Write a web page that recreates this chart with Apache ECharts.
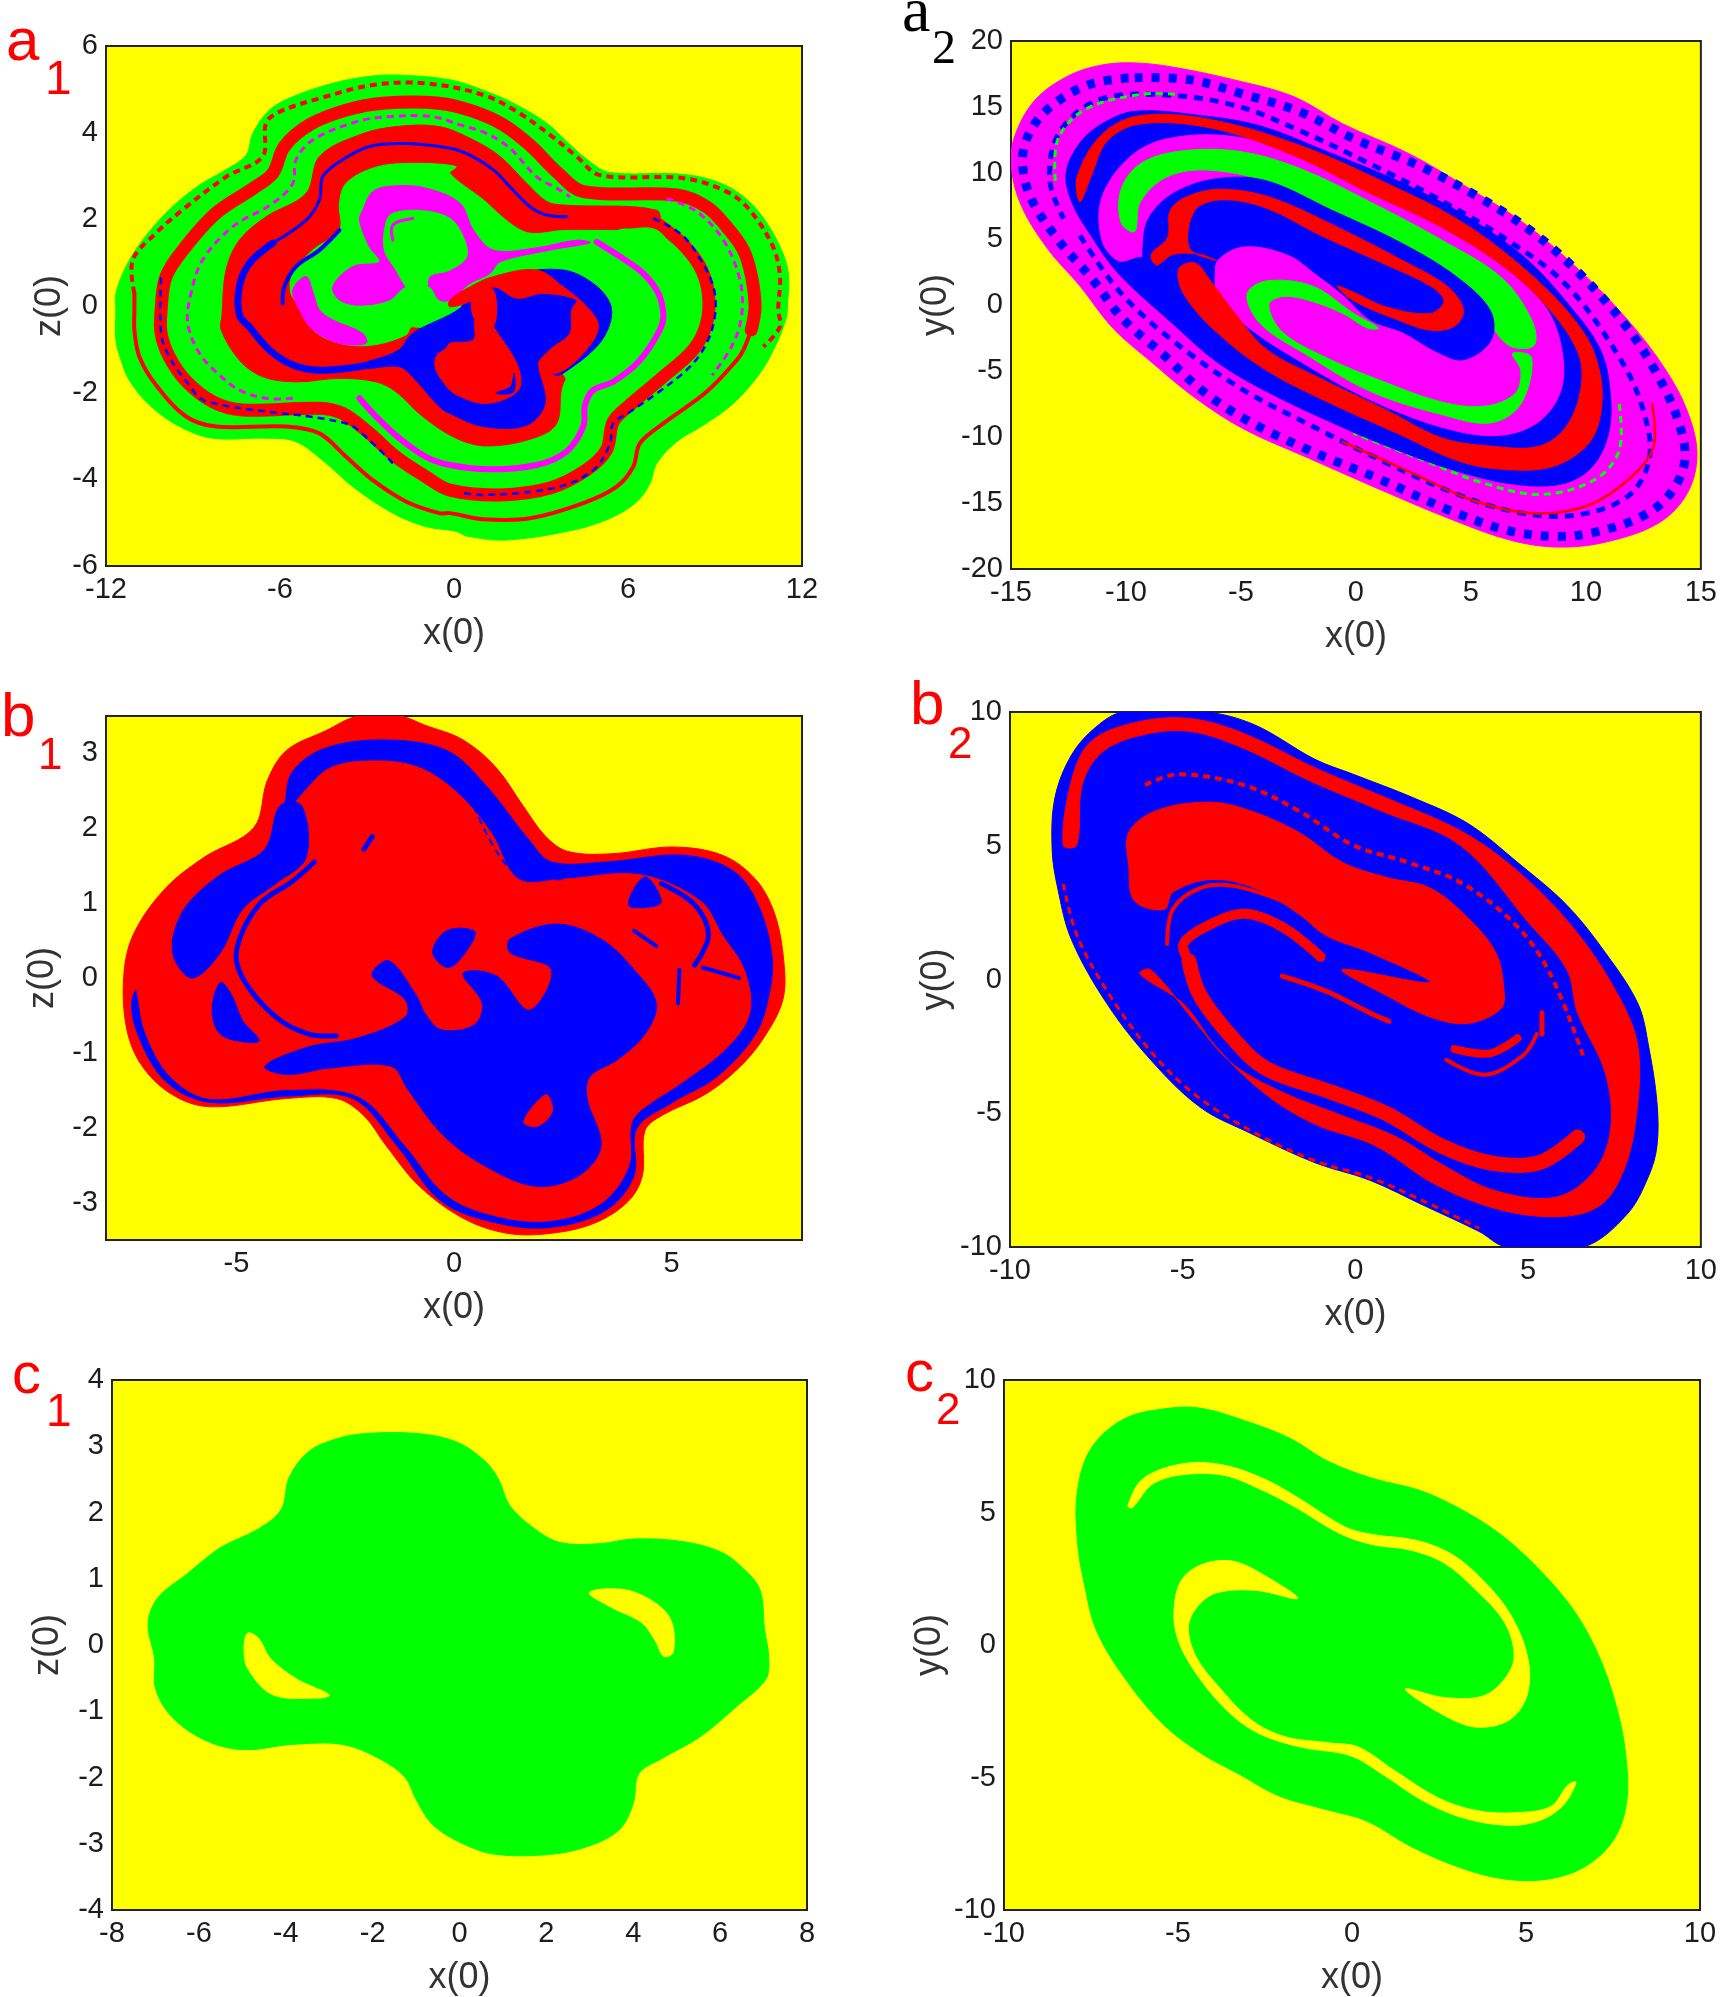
<!DOCTYPE html>
<html>
<head>
<meta charset="utf-8">
<title>Basins of attraction</title>
<script src="https://cdn.jsdelivr.net/npm/echarts@6/dist/echarts.min.js"></script>
<style>
html, body { margin: 0; padding: 0; background: #fff; }
#chart { width: 1720px; height: 1997px; }
</style>
</head>
<body>
<div id="chart"></div>
<script>
// tick labels
var a1XTicks = [-12, -6, 0, 6, 12];
var a1YTicks = [-6, -4, -2, 0, 2, 4, 6];
var a2XTicks = [-15, -10, -5, 0, 5, 10, 15];
var a2YTicks = [-20, -15, -10, -5, 0, 5, 10, 15, 20];
var b1XTicks = [-5, 0, 5];
var b1YTicks = [-3, -2, -1, 0, 1, 2, 3];
var b2XTicks = [-10, -5, 0, 5, 10];
var b2YTicks = [-10, -5, 0, 5, 10];
var c1XTicks = [-8, -6, -4, -2, 0, 2, 4, 6, 8];
var c1YTicks = [-4, -3, -2, -1, 0, 1, 2, 3, 4];
var c2XTicks = [-10, -5, 0, 5, 10];
var c2YTicks = [-10, -5, 0, 5, 10];

// ==============================================================
// a1 : x(0), z(0) basin contours
// ==============================================================
var a1Outline = [[-2,5.33],[-.14,5.22],[1.01,4.98],[2.05,4.68],[3.2,4.22],[3.89,3.79],[4.69,3.33],[5.38,3.08],[7.68,3.05],[8.83,2.92],[9.75,2.64],[10.55,2.14],[11.24,1.37],[11.53,.75],[11.49,-.09],[11.47,-.25],[11.13,-.86],[10.55,-1.55],[9.63,-2.25],[8.6,-2.75],[7.68,-3.13],[6.99,-3.63],[6.76,-4.09],[6.3,-4.52],[5.38,-4.9],[4.12,-5.17],[1.82,-5.4],[.44,-5.31],[.07,-5.2],[-.97,-5.09],[-2.11,-4.78],[-3.49,-4.17],[-4.41,-3.63],[-5.45,-3.13],[-6.48,-3.05],[-8.32,-3.05],[-9.47,-2.78],[-10.51,-2.28],[-11.2,-1.71],[-11.48,-1.25],[-11.66,-.78],[-11.66,-.09],[-11.66,.29],[-11.31,.91],[-10.74,1.52],[-9.82,2.22],[-8.78,2.79],[-7.98,3.1],[-7.17,3.48],[-6.94,3.98],[-6.37,4.52],[-5.56,4.83],[-4.18,5.14],[-3.03,5.29]];
var a1ThinRed = [[10.25,-.55],[9.98,-1.01],[9.75,-1.25],[8.71,-1.98],[7.22,-2.71],[6.41,-3.17],[6.18,-3.71],[5.61,-4.17],[4.46,-4.55],[2.62,-4.9],[1.01,-4.92],[-.14,-4.78],[-.51,-4.78],[-1.66,-4.51],[-2.8,-4.02],[-3.72,-3.48],[-4.64,-2.94],[-5.79,-2.78],[-8.21,-2.78],[-9.24,-2.55],[-10.28,-1.82],[-10.85,-1.17],[-11.02,-.55],[-11.02,-.09],[-11.02,.29]];
var a1SpeckRed = [[-11.02,.29],[-11.08,1.06],[-10.28,1.68],[-9.36,2.22],[-7.86,2.98],[-6.6,3.45],[-6.48,4.22],[-6.02,4.48],[-4.64,4.79],[-2.8,5.1],[-.97,5.14],[1.01,4.87],[2.16,4.49],[3.31,3.95],[4.23,3.45],[5.03,3.02],[7.91,2.95],[9.4,2.64],[10.2,2.21],[11,1.37],[11.24,.68],[11.18,-.09],[11.24,-.48],[10.67,-.94]];
var a1RedArm = [[10.25,-.55],[10.38,-.03],[10.26,.68],[9.98,1.29],[9.4,1.83],[8.71,2.29],[7.68,2.56],[4.46,2.64],[3.6,3.06],[2.62,3.71],[1.7,4.18],[.67,4.49],[-.51,4.68],[-2.46,4.68],[-3.72,4.52],[-4.99,4.18],[-5.85,3.68],[-6.25,3.06],[-6.94,2.71],[-8.21,2.14],[-9.3,1.33],[-9.93,.68],[-10.1,-.09],[-10.1,-.63],[-9.82,-1.17],[-9.24,-1.73],[-8.32,-2.21],[-7.29,-2.4],[-4.64,-2.36],[-3.84,-2.48],[-2.98,-2.9],[-2,-3.48],[-.97,-3.94],[-.14,-4.25],[1.59,-4.36],[3.31,-4.2],[4.57,-3.78],[5.26,-3.32],[5.49,-2.67],[6.07,-2.28],[7.22,-1.63],[8.25,-1.01],[8.71,-.4],[8.77,.29],[8.48,.91],[7.85,1.45],[6.99,1.91]];
var a1RedCore = [[6.99,2.21],[3.77,2.33],[3.2,2.41],[2.51,2.83],[1.59,3.45],[.67,3.83],[-.51,4.14],[-2,4.14],[-3.26,3.95],[-4.64,3.45],[-5.1,2.6],[-6.48,2.06],[-7.4,1.52],[-7.86,.83],[-8,-.21],[-8.03,-.55],[-7.4,-1.25],[-6.6,-1.63],[-5.45,-1.75],[-3.95,-1.67],[-2.69,-1.75],[-2,-1.98],[-1.08,-2.55],[.07,-3.05],[1.13,-3.23],[2.74,-3.05],[3.54,-2.71],[3.77,-1.78],[4.69,-1.01],[5.38,-.55],[5.38,.29],[5.61,1.06],[5.61,1.75],[6.99,1.79]];
var a1GreenCore = [[.07,3.22],[-1.66,3.29],[-2.8,3.18],[-3.72,2.83],[-3.95,2.37],[-3.95,1.75],[-4.87,1.29],[-5.56,.75],[-5.62,.29],[-5.22,-.09],[-4.87,-.55],[-3.95,-.86],[-2.8,-.9],[-1.66,-.67],[-1.43,-.48],[2.16,-.86],[3.83,-1.63],[3.83,-2.32],[5.61,-2.17],[7.22,-1.4],[7.79,-.78],[8.02,-.21],[8.02,.29],[7.68,1.06],[6.99,1.75],[5.61,1.74],[3.77,1.74],[2.62,1.68],[1.93,1.91],[1.01,2.45],[-.14,3.06]];
var a1MagentaBlob = [[-3.15,2.21],[-2.8,2.64],[-2.11,2.77],[-.97,2.72],[.21,2.37],[.67,1.75],[1.36,1.29],[2.74,1.33],[4.23,1.52],[4.69,1.46],[3.31,1.29],[1.59,1.02],[1.24,.75],[.55,.52],[-.14,.14],[-.51,.14],[-.85,.45],[-1.66,.45],[-2.23,.14],[-3.26,.02],[-3.95,.14],[-4.18,.45],[-3.49,.91],[-2.57,1.02],[-2.92,1.37],[-3.26,1.98]];
var a1GreenBlob = [[-2.35,1.91],[-2.11,2.14],[-1.08,2.2],[-.14,2.02],[.32,1.6],[.44,1.14],[-.14,.83],[-.85,.68],[-.97,.29],[-1.54,.37],[-2,.83],[-2.4,1.29]];
var a1MagentaArc = [[-2.11,1.52],[-2.11,1.87],[-1.43,2.02]];
var a1MagentaLeft = [[-5.56,.37],[-5.1,.68],[-4.85,.29],[-4.64,-.09],[-4.18,-.32],[-3.15,-.63],[-3.03,-.86],[-3.95,-.86],[-4.87,-.55],[-5.33,-.09]];
var a1BlueThinTop = [[3.89,2.06],[3.2,2.1],[2.62,2.29],[1.93,2.75],[1.36,3.14],[.55,3.48],[-.14,3.64],[-1.66,3.75],[-2.92,3.68],[-3.95,3.33],[-4.53,2.98],[-4.64,2.45],[-5.1,1.98],[-6.25,1.45]];
var a1BlueWide = [[-6.25,1.45],[-7.06,.98],[-7.4,.45],[-7.4,-.21],[-7.06,-.48],[-6.37,-1.01],[-5.56,-1.36],[-4.64,-1.48],[-3.26,-1.4]];
var a1BlueInner = [[-3.95,1.75],[-4.64,1.29],[-5.45,.91],[-5.85,.45],[-5.91,.06]];
var a1BlueRight = [[6.87,2.02],[7.79,1.68],[8.37,1.21],[8.94,.45],[9,-.21],[8.71,-.86],[8.14,-1.4],[6.99,-2.02],[6.07,-2.44],[5.49,-2.71],[5.38,-3.17],[4.92,-3.71],[4,-4.09],[2.74,-4.28],[1.01,-4.36],[.21,-4.31]];
var a1BlueLow = [[-2.11,-3.63],[-2.8,-3.17],[-3.72,-2.71],[-8.55,-2.2],[-9.24,-1.73],[-9.82,-1.17],[-10.1,-.63],[-10.1,.68]];
var a1BlueShape = [[-1.43,-.63],[.21,-.05],[.55,.37],[2.16,.75],[3.77,.83],[4.8,.52],[5.38,.06],[5.38,-.4],[4.92,-.94],[3.77,-1.55],[3.48,-1.59],[2.91,-1.36],[3.14,-2.24],[2.51,-2.75],[1.01,-2.78],[-.14,-2.48],[-.51,-2.32],[-1.43,-1.63],[-1.89,-1.4],[-2.92,-1.44],[-4.3,-1.51],[-2.8,-1.25],[-1.89,-1.01]];
var a1RedRing = [[-.14,.14],[.55,.44],[1.36,.68],[2.85,.83],[3.77,.44],[4.57,-.01],[4.98,-.48],[4.46,-1.09],[3.54,-1.55],[2.91,-1.36],[3.31,-1.01],[4,-.63],[4.06,-.09],[4.23,.14],[3.08,.29],[2.16,.18],[1.36,.44],[.67,.14],[-.14,-.02]];
var a1RedStem = [[.67,.29],[1.36,.37],[1.36,-.48],[.72,-.32]];
var a1RedCentre = [[-.14,-.86],[.67,-.78],[.72,-.32],[1.01,-.09],[1.36,-.48],[2.16,-1.32],[2.28,-1.86],[1.82,-2.13],[1.01,-2.25],[.21,-2.09],[-.14,-1.94],[-.62,-1.48],[-.62,-1.17],[-.28,-.98]];
var a1BlueSliver = [[2.07,-1.55],[1.95,-1.86],[1.44,-2.01],[2.05,-1.98]];
var a1MagentaThick = [[4.92,1.48],[5.72,1.14],[6.53,.75],[7.05,.29],[7.22,-.21],[7.1,-.55],[6.41,-1.25],[5.49,-1.75],[4.8,-1.94],[4.52,-2.28],[4.46,-2.78],[3.88,-3.36],[2.85,-3.67],[1.24,-3.77],[-.14,-3.67],[-.97,-3.48],[-1.89,-3.05],[-2.69,-2.55],[-3.26,-2.13]];
var a1MagentaDash = [[-5.56,-2.13],[-6.48,-2.13],[-7.4,-1.94],[-8.09,-1.59],[-8.78,-1.09],[-9.18,-.4],[-9.07,.29],[-8.67,1.06],[-7.63,1.83],[-6.25,2.37],[-5.56,2.83],[-5.45,3.37],[-4.87,3.83],[-3.38,4.25],[-2.23,4.37],[-.74,4.37],[.21,4.18],[1.13,3.98],[1.93,3.64],[2.85,2.98],[3.54,2.72],[4,2.52]];
var a1MagentaRight = [[7.33,2.48],[8.37,2.18],[9.29,1.52],[9.86,.6],[9.92,-.21],[9.6,-.9],[8.9,-1.6]];

// ==============================================================
// a2 : x(0), y(0) basin contours
// ==============================================================
var a2Outline = [[-9.62,18.34],[-7.95,18.02],[-5.33,17.07],[-2.71,15.79],[-.57,13.72],[2.29,11.48],[4.67,9.09],[7.29,6.22],[9.67,2.71],[11.81,-1.12],[13.48,-4.94],[14.43,-8.13],[14.83,-11.32],[14.43,-14.19],[13.24,-16.43],[11.1,-17.86],[8.95,-18.34],[6.81,-17.86],[4.19,-16.27],[1.33,-14.19],[-2,-11.64],[-4.86,-9.41],[-7,-7.02],[-8.9,-4.31],[-10.57,-1.75],[-12,1.44],[-13.43,4.31],[-14.62,7.81],[-15,11],[-14.74,13.24],[-13.9,15.63],[-12.48,17.38],[-11.05,18.18]];
var a2BlueSpeck = [[-9.62,17.22],[-7.24,17.07],[-4.86,15.95],[-2.48,14.67],[-.1,12.6],[2.76,10.53],[5.38,8.13],[7.76,5.42],[9.9,2.07],[11.81,-1.75],[13,-4.94],[13.95,-8.45],[14.31,-11.64],[13.71,-14.19],[12.52,-15.95],[10.38,-17.22],[8.71,-17.54],[6.57,-17.07],[3.95,-15.47],[1.1,-13.24],[-2.24,-10.85],[-4.86,-8.61],[-6.76,-6.38],[-8.43,-3.67],[-10.1,-1.12],[-11.52,2.07],[-12.95,4.94],[-14.14,8.13],[-14.5,11],[-14.14,13.24],[-13.19,15.15],[-11.52,16.75],[-9.62,17.22]];
var a2BlueSpeckInner = [[-12,5.26],[-10.33,1.12],[-8.19,-2.39],[-5.1,-6.22],[-2,-9.09],[1.33,-11.96],[4.19,-14.19],[6.81,-15.63],[9.43,-15.95],[11.81,-14.51],[12.76,-11.64],[12.52,-8.13],[11.57,-4.31],[9.19,1.44],[6.57,4.94],[3.48,8.13],[.62,10.69],[-2.48,13.24],[-5.33,15.15],[-8.67,15.95],[-11.29,15.47],[-12.95,12.92],[-13.31,9.41],[-12.71,6.54]];
var a2BlueBody = [[-9.62,14.67],[-6.76,14.35],[-4.14,13.56],[-1.29,11.64],[1.81,9.41],[4.67,6.86],[7.29,3.67],[9.19,.16],[10.62,-3.35],[11.05,-6.54],[10.98,-9.73],[10.26,-12.28],[8.95,-13.56],[6.81,-13.56],[4.43,-12.6],[2.05,-11.16],[-.81,-9.09],[-3.9,-6.54],[-6.05,-4.31],[-7.95,-1.44],[-10.33,2.39],[-11.52,5.26],[-12.36,7.81],[-12.6,10.05],[-12,12.28],[-11.05,13.72]];
var a2RedThin = [[12.88,-7.5],[12.95,-10.69],[12.05,-12.92],[10.14,-15.15],[7.76,-15.79],[5.14,-14.83],[2.29,-12.6],[-.57,-10.37]];
var a2GreenLow2 = [[11.45,-7.5],[11.45,-11],[10.38,-13.24],[8,-14.35],[5.38,-13.4],[2.76,-11.64],[-.1,-9.73]];
var a2GreenTop2 = [[-13.07,9.41],[-12.95,12.6],[-11.76,14.83],[-9.38,15.95],[-7.71,15.95]];
var a2Magenta = [[-11.05,4.94],[-11.05,8.13],[-9.86,11.16],[-8.19,12.6],[-5.33,12.76],[-2.48,11.32],[.62,8.77],[3.71,5.9],[6.33,3.03],[8.24,-.16],[8.95,-3.35],[8.9,-6.54],[7.88,-8.93],[6.1,-9.89],[3.71,-9.25],[.62,-7.18],[-2.24,-4.47],[-4.86,-1.44],[-6.05,1.12],[-6.29,3.67],[-9.38,3.67],[-10.33,3.35]];
var a2GreenTop = [[-10.21,6.22],[-10.21,8.77],[-9.38,10.69],[-7.71,11.64],[-5.1,11.64],[-2.48,10.37],[.62,7.81],[3.71,4.94],[6.33,2.07],[7.64,-1.12],[7.76,-3.03],[6.81,-3.19],[6.1,-2.07],[5.38,.48],[2.76,3.67],[-.57,6.54],[-3.43,9.09],[-6.29,10.21],[-8.19,9.73],[-9.38,7.81],[-9.62,5.58]];
var a2GreenLow = [[7.64,-3.99],[7.17,-7.5],[5.86,-8.93],[3.71,-8.29],[.62,-6.54],[-2.24,-3.67],[-4.14,-1.44],[-4.74,.8],[-3.9,1.82],[-1.9,1.44],[-.1,-.64],[.98,-1.75],[.5,-1.75],[-.57,-.64],[-2,.32],[-3.19,.64],[-3.79,0],[-3.19,-2.07],[-1.29,-3.99],[1.1,-5.74],[3.71,-7.34],[5.62,-7.66],[6.93,-6.7],[7.17,-4.94],[6.81,-3.67]];
var a2BlueS = [[-9.26,4.31],[-9.02,6.54],[-7.95,8.45],[-6.05,9.57],[-3.9,9.41],[-1.05,7.18],[2.05,4.63],[4.43,2.07],[5.86,-.48],[5.86,-2.71],[4.67,-4.15],[3.48,-3.51],[2.05,-2.07],[.62,-1.12],[-.57,.8],[-1.76,2.39],[-2.95,3.83],[-4.86,4.47],[-6.05,3.35],[-6.29,1.44],[-7.24,3.35],[-8.43,3.19],[-8.55,1.44],[-9.14,2.39]];
var a2RedArm = [[-12.12,9.73],[-11.05,12.92],[-9.38,14.35],[-6.29,14.04],[-2.48,12.12],[1.1,9.41],[4.67,6.22],[7.76,2.07],[9.9,-2.07],[10.62,-5.26],[10.62,-8.45],[10.02,-10.69],[8.48,-12.28],[6.33,-12.44],[4.43,-11.8],[1.81,-9.73],[-1.05,-7.5],[-3.9,-4.94],[-6.05,-2.07],[-7.48,.8],[-7.71,2.71],[-7,3.19],[-6.29,1.75],[-5.33,-.48],[-3.9,-3.35],[-1.52,-5.58],[1.33,-7.97],[3.71,-10.05],[5.86,-10.69],[8,-10.69],[9.19,-9.09],[9.79,-6.22],[9.67,-3.67],[8.48,-.48],[6.57,2.71],[3.71,5.9],[.62,8.45],[-2.71,11.32],[-6.29,13.4],[-9.38,13.72],[-10.81,12.44],[-11.52,9.73],[-12,7.81]];
var a2RedInner = [[-8.9,3.83],[-8.19,5.1],[-8.07,7.18],[-7.24,8.29],[-5.81,8.77],[-3.67,8.13],[-.81,5.9],[2.05,3.35],[3.95,1.44],[4.67,-.32],[4.31,-1.59],[3.24,-1.91],[1.81,-1.12],[-.1,.32],[-.81,1.44],[-.1,.96],[1.33,-.16],[3.24,-.64],[3.83,.32],[3.24,1.44],[1.33,3.03],[-1.52,5.26],[-3.9,7.34],[-5.81,7.97],[-7,7.18],[-7.24,4.31],[-6.05,3.35],[-6.76,3.83],[-7.95,3.83],[-8.67,3.03]];

// ==============================================================
// b1 : x(0), z(0) basin contours
// ==============================================================
var b1Outline = [[-2.2,3.5],[-1.25,3.5],[-.68,3.38],[.21,3.18],[.97,2.81],[1.6,2.29],[2.11,1.89],[2.62,1.69],[3.63,1.66],[5.03,1.75],[6.17,1.64],[6.93,1.32],[7.37,.86],[7.58,.23],[7.56,-.29],[7.12,-.8],[6.55,-1.2],[5.79,-1.55],[4.77,-1.84],[4.39,-2.04],[4.33,-2.64],[4.01,-2.98],[3.25,-3.27],[2.24,-3.41],[1.22,-3.41],[.21,-3.21],[-.8,-2.78],[-1.56,-2.24],[-2.07,-1.84],[-2.7,-1.61],[-3.85,-1.61],[-5.62,-1.72],[-6.5,-1.55],[-7.2,-1.15],[-7.54,-.63],[-7.58,.11],[-7.33,.63],[-6.63,1.2],[-5.75,1.61],[-4.6,2.01],[-4.29,2.64],[-3.85,3.04],[-2.96,3.3]];
var b1BlueRing = [[-3.72,2.75],[-2.96,3.07],[-1.57,3.18],[-.17,3.04],[.72,2.58],[1.73,1.84],[2.24,1.55],[3.5,1.55],[5.28,1.64],[6.42,1.43],[6.99,.98],[7.31,.29],[7.24,-.23],[6.93,-.75],[6.04,-1.32],[5.03,-1.66],[4.2,-2.01],[4.14,-2.64],[3.5,-3.1],[2.24,-3.33],[.97,-3.27],[-.3,-2.98],[-1.31,-2.24],[-2.33,-1.61],[-3.85,-1.58],[-5.62,-1.66],[-6.63,-1.38],[-7.27,-.75],[-7.4,-.29],[-7.1,0],[-5.4,1.2],[-4.2,1.7],[-3.9,2.3]];
var b1RedBody = [[-3.47,2.47],[-2.83,2.81],[-1.82,2.9],[-.8,2.81],[.08,2.47],[.84,1.95],[1.48,1.32],[2.49,1.32],[4.26,1.38],[5.66,1.03],[6.17,.57],[6.67,.11],[6.8,-.46],[6.29,-.92],[5.28,-1.38],[4.33,-1.75],[4.07,-1.95],[4.01,-2.52],[3.38,-3.01],[2.24,-3.24],[.97,-3.18],[-.17,-2.9],[-1.12,-2.24],[-2.2,-1.58],[-3.85,-1.49],[-5.62,-1.61],[-6.51,-1.32],[-7.08,-.75],[-7.27,-.23],[-7.4,.23],[-7.14,.69],[-6.25,1.26],[-5.37,1.55],[-4.35,1.84],[-3.85,2.18]];
var b1BlueLobe = [[-6.13,.98],[-5.37,1.38],[-4.35,1.72],[-4,2.3],[-3.5,2.3],[-3.4,1.61],[-4.1,1.26],[-4.86,.92],[-5.37,.34],[-6,0],[-6.41,.23],[-6.45,.57]];
var b1BlueCurve = [[-3.21,1.55],[-3.72,1.29],[-4.48,.98],[-4.99,.4],[-4.86,0],[-4.1,-.52],[-3.34,-.75],[-2.71,-.77]];
var b1BlueSmall = [[-5.37,-.06],[-5.11,-.23],[-4.86,-.57],[-4.48,-.83],[-4.74,-.86],[-5.37,-.75],[-5.56,-.43]];
var b1BlueCentre = [[-4.35,-1.18],[-3.34,-.92],[-2.2,-.8],[-1.12,-.52],[-1.12,-.29],[-1.88,.03],[-1.5,.23],[-.87,-.23],[-.68,-.46],[-.3,-.69],[.46,-.63],[.65,-.34],[.21,.06],[.97,.03],[1.73,-.43],[2.24,.11],[1.29,.34],[1.29,.52],[2.36,.72],[3.38,.52],[4.14,.11],[4.65,-.34],[4.39,-.75],[3.76,-1.09],[3.12,-1.32],[3.06,-1.61],[3.38,-2.24],[2.87,-2.64],[1.86,-2.78],[.59,-2.47],[-.3,-2.07],[-1.06,-1.49],[-1.44,-1.18],[-2.83,-1.2],[-3.85,-1.29]];
var b1RedIsland = [[1.6,-1.92],[2.11,-1.56],[2.26,-1.78],[1.92,-1.98]];
var b1BlueSpot = [[-.49,.34],[-.17,.63],[.46,.63],[.4,.46],[-.11,.14]];
var b1BlueTick = [[-1.88,1.89],[-2.07,1.72]];
var b1BlueWedge = [[4.39,1.35],[4.77,1.03],[4.52,.95],[4.01,.98]];
var b1BlueArc = [[4.77,1.26],[5.53,.98],[5.85,.57],[5.53,.17]];
var b1BlueBar = [[5.18,.11],[5.15,-.34]];
var b1BlueDash = [[5.72,.14],[6.55,0]];
var b1BlueNick = [[4.14,.63],[4.65,.43]];
var b1BlueEdge = [[.46,2.29],[1.34,1.43],[2.49,1.32]];

// ==============================================================
// b2 : x(0), y(0) basin contours
// ==============================================================
var b2Outline = [[-6.72,10],[-4.34,10],[-2.92,9.52],[-1.17,8.23],[-.06,7.67],[1.68,6.79],[3.26,5.83],[4.69,4.38],[6.12,2.78],[7.23,1.01],[8.18,-.91],[8.49,-2.52],[8.73,-4.61],[8.73,-6.21],[8.49,-7.34],[7.86,-8.78],[6.59,-10],[4.37,-10],[3.58,-9.42],[2,-8.46],[.41,-7.5],[-1.17,-6.85],[-3.07,-5.73],[-4.5,-4.77],[-5.93,-3],[-7.19,-.91],[-8.22,1.49],[-8.62,3.42],[-8.78,4.86],[-8.7,6.79],[-8.22,8.39],[-7.51,9.44]];
var b2RedArm = [[-8.46,5.02],[-8.22,7.43],[-7.67,8.88],[-6.4,9.6],[-4.82,9.76],[-3.23,9.2],[-1.17,7.91],[.89,6.79],[3.11,5.51],[4.69,4.06],[6.28,1.97],[7.54,-.43],[8.18,-2.52],[8.1,-5.41],[7.7,-7.34],[7.07,-8.46],[5.96,-8.86],[4.22,-8.62],[2.31,-7.66],[.57,-6.21],[-1.17,-5.41],[-2.6,-4.29],[-4.03,-2.52],[-4.98,-.91],[-6.24,.21],[-5.93,.37],[-4.66,-1.56],[-3.55,-3.16],[-2.12,-4.21],[-.38,-5.09],[1.2,-5.89],[2.63,-7.01],[4.06,-7.9],[5.8,-8.14],[6.91,-7.17],[7.39,-5.57],[7.23,-3.48],[6.43,-1.24],[6.12,.37],[5.01,2.13],[3.03,5.02],[.73,6.31],[-1.33,7.43],[-3.23,8.64],[-4.82,9.28],[-6.24,9.12],[-7.35,8.48],[-7.91,7.27],[-8.07,5.02]];
var b2RedEdge = [[-8.46,3.58],[-8.06,1.65],[-7.19,-.43],[-5.93,-2.68],[-4.66,-4.29],[-2.92,-5.73],[-1.17,-6.78],[.41,-7.4],[2,-8.3],[3.58,-9.3]];
var b2RedCentre = [[-6.56,5.51],[-5.77,6.31],[-4.34,6.63],[-3.23,6.39],[-1.65,5.51],[-.38,4.38],[.89,3.82],[2.16,3.42],[3.26,2.3],[4.06,1.01],[4.29,-.27],[4.22,-1.08],[3.26,-1.64],[2.16,-1.4],[.89,-.59],[-.38,.37],[2.16,-.11],[.41,1.01],[-.86,1.65],[-1.65,2.46],[-2.92,3.42],[-4.18,3.74],[-5.29,3.26],[-5.53,2.62],[-6.4,2.94],[-6.56,4.22]];
var b2RibLow = [[-4.82,.69],[-4.5,-.59],[-3.55,-2.2],[-2.6,-3.32],[-.7,-4.21],[.89,-5.01],[2.47,-6.21],[3.9,-6.85],[5.32,-6.85],[6.43,-5.89]];
var b2RibTop = [[-4.82,.69],[-4.98,1.33],[-4.34,1.97],[-3.23,2.46],[-2.12,1.97],[-1.01,.85]];
var b2RibThin = [[-5.45,1.33],[-5.29,2.62],[-4.5,3.42],[-3.55,3.5],[-2.12,2.94]];
var b2ArcUpper = [[2.87,-2.6],[3.9,-2.76],[4.69,-2.2]];
var b2ArcLower = [[2.63,-3],[3.74,-3.56],[4.85,-2.84],[5.25,-2.04]];
var b2ArcBar = [[5.4,-1.24],[5.4,-2.04]];
var b2Streak = [[-2.12,.13],[-.86,-.43],[.41,-1.24],[.97,-1.56]];
var b2Dots = [[-6.09,7.27],[-5.14,7.67],[-3.23,7.27],[-1.65,6.31],[-.06,5.02],[1.52,4.38],[3.11,3.58],[4.69,1.97],[5.64,.21],[6.59,-2.84]];

// ==============================================================
// c1, c2 : single basin with yellow holes
// ==============================================================
var c1Outline = [[-2.2,3.19],[-.94,3.19],[-.05,3.06],[.58,2.78],[.9,2.5],[1.15,2.11],[1.66,1.79],[2.3,1.55],[3.24,1.53],[4,1.6],[5.15,1.56],[6.03,1.4],[6.54,1.15],[6.92,.83],[7.02,.25],[7.12,-.2],[7.05,-.52],[6.41,-.91],[5.53,-1.39],[4.64,-1.72],[4.13,-1.94],[4,-2.39],[3.69,-2.78],[3,-3.03],[2.1,-3.16],[.84,-3.16],[.08,-3],[-.62,-2.71],[-1,-2.33],[-1.25,-2],[-1.83,-1.72],[-2.7,-1.5],[-3.85,-1.5],[-4.99,-1.58],[-5.88,-1.43],[-6.64,-1.07],[-7,-.65],[-7.02,-.2],[-7.17,.31],[-6.96,.7],[-6.26,1.08],[-5.5,1.47],[-4.61,1.76],[-4.1,2.05],[-3.92,2.53],[-3.47,2.92],[-2.84,3.11]];
var c1HoleRight = [[2.99,.79],[3.75,.84],[4.45,.66],[4.87,.37],[4.92,-.11],[4.7,-.17],[4.51,.06],[4.19,.34],[3.49,.57]];
var c1HoleLeft = [[-4.87,.18],[-4.61,.09],[-4.36,-.2],[-3.73,-.52],[-3,-.75],[-3.22,-.8],[-4.3,-.75],[-4.87,-.36],[-4.96,-.04]];
var c2Outline = [[-5.28,8.93],[-4.33,8.93],[-3.06,8.45],[-1.8,7.81],[-.69,6.93],[.58,6.29],[2,5.81],[3.27,5.02],[4.38,4.06],[5.49,2.7],[6.44,1.18],[7.15,-.58],[7.63,-2.49],[7.86,-4.09],[7.9,-5.85],[7.55,-7.28],[6.75,-8.32],[5.65,-8.83],[4.38,-8.83],[3.11,-8.4],[1.69,-7.6],[.42,-6.64],[-.85,-6.17],[-2.11,-5.69],[-3.22,-4.89],[-4.33,-4.09],[-5.44,-2.97],[-6.55,-1.21],[-7.34,.54],[-7.69,2.3],[-7.89,3.9],[-7.89,5.81],[-7.5,7.41],[-6.55,8.53]];
var c2HoleUpper = [[-6.44,5.26],[-5.99,6.29],[-4.81,6.85],[-3.62,6.77],[-2.43,6.21],[-1.48,5.5],[-.21,4.46],[.58,4.17],[1.84,3.95],[2.87,3.42],[3.75,2.46],[4.54,1.18],[5.04,-.42],[5.04,-1.85],[4.54,-2.81],[3.59,-3.1],[2.64,-2.65],[1.53,-1.66],[2.64,-1.98],[3.75,-1.93],[4.38,-1.29],[4.66,-.42],[4.38,.86],[3.51,2.14],[2.64,3.1],[1.69,3.58],[.58,3.79],[-.37,4.22],[-1.64,5.21],[-2.59,5.85],[-3.7,6.41],[-4.96,6.41],[-5.76,6.05],[-6.31,5.18]];
var c2HoleLower = [[-1.56,1.76],[-2.51,2.62],[-3.38,3.15],[-4.17,3.1],[-4.8,2.62],[-5.07,1.82],[-5.07,.54],[-4.65,-.73],[-3.7,-2.33],[-2.75,-3.29],[-1.48,-3.85],[-.06,-4.17],[.89,-4.89],[2,-5.85],[3.11,-6.49],[4.38,-6.8],[5.33,-6.65],[6.04,-6.09],[6.44,-5.18],[6.2,-5.29],[5.72,-6.09],[4.7,-6.33],[3.59,-6.25],[2.48,-5.77],[1.21,-4.73],[.18,-3.85],[-.69,-3.69],[-1.95,-3.45],[-2.91,-2.81],[-3.86,-1.53],[-4.49,-.42],[-4.7,.7],[-4.41,1.5],[-3.86,1.98],[-2.75,2.06]];

var RED = '#ff0000', GREEN = '#00ff00', BLUE = '#0000ff', PINK = '#ff00ff', YELLOW = '#ffff00';
var dotted = [7, 5];

// layer = [points, colour] fills a region, [points, colour, width, dash] strokes a line
var a1Layers = [
    [a1Outline, GREEN], [a1ThinRed, RED, 4], [a1SpeckRed, RED, 4, dotted],
    [a1RedArm, RED, 13], [a1RedCore, RED], [a1GreenCore, GREEN],
    [a1MagentaBlob, PINK], [a1GreenBlob, GREEN], [a1MagentaArc, PINK, 3], [a1MagentaLeft, PINK],
    [a1BlueThinTop, BLUE, 3], [a1BlueWide, BLUE, 7], [a1BlueInner, BLUE, 4],
    [a1BlueRight, BLUE, 2.5, dotted], [a1BlueLow, BLUE, 2.5, dotted],
    [a1BlueShape, BLUE], [a1RedRing, RED], [a1RedStem, RED], [a1RedCentre, RED], [a1BlueSliver, BLUE],
    [a1MagentaThick, PINK, 6], [a1MagentaDash, PINK, 3, dotted], [a1MagentaRight, PINK, 3, dotted]
];
var a2Layers = [
    [a2Outline, PINK], [a2BlueSpeck, BLUE, 9, [8, 9]], [a2BlueSpeckInner, BLUE, 5, [9, 7]], [a2RedThin, RED, 2.5], [a2GreenLow2, GREEN, 3, dotted], [a2GreenTop2, GREEN, 3, dotted],
    [a2BlueBody, BLUE], [a2Magenta, PINK], [a2GreenTop, GREEN], [a2GreenLow, GREEN], [a2BlueS, BLUE],
    [a2RedArm, RED], [a2RedInner, RED]
];
var b1Layers = [
    [b1Outline, RED], [b1BlueRing, BLUE], [b1RedBody, RED], [b1BlueLobe, BLUE], [b1BlueCurve, BLUE, 5], [b1BlueSmall, BLUE],
    [b1BlueCentre, BLUE], [b1RedIsland, RED], [b1BlueSpot, BLUE], [b1BlueTick, BLUE, 5], [b1BlueWedge, BLUE],
    [b1BlueArc, BLUE, 5], [b1BlueBar, BLUE, 4], [b1BlueDash, BLUE, 4], [b1BlueNick, BLUE, 4], [b1BlueEdge, BLUE, 2, dotted]
];
var b2Layers = [
    [b2Outline, BLUE], [b2RedEdge, RED, 3, dotted], [b2RedArm, RED], [b2RedCentre, RED], [b2RibLow, RED, 15], [b2RibTop, RED, 10], [b2RibThin, RED, 4],
    [b2ArcUpper, RED, 8], [b2ArcLower, RED, 4], [b2ArcBar, RED, 5], [b2Streak, RED, 5], [b2Dots, RED, 4, dotted]
];
var c1Layers = [[c1Outline, GREEN], [c1HoleRight, YELLOW], [c1HoleLeft, YELLOW]];
var c2Layers = [[c2Outline, GREEN], [c2HoleUpper, YELLOW], [c2HoleLower, YELLOW]];

var panels = [
    { rect: [106, 46, 696, 520], x: 12, y: 6, xTicks: a1XTicks, yTicks: a1YTicks, yName: 'z(0)', gap: 37, layers: a1Layers },
    { rect: [1011, 41, 695, 528], x: 15, y: 20, xTicks: a2XTicks, yTicks: a2YTicks, yName: 'y(0)', gap: 57, layers: a2Layers },
    { rect: [106, 716, 696, 524], x: 8, y: 3.5, xTicks: b1XTicks, yTicks: b1YTicks, yName: 'z(0)', gap: 45, layers: b1Layers },
    { rect: [1010, 712, 696, 535], x: 10, y: 10, xTicks: b2XTicks, yTicks: b2YTicks, yName: 'y(0)', gap: 56, layers: b2Layers },
    { rect: [112, 1380, 695, 531], x: 8, y: 4, xTicks: c1XTicks, yTicks: c1YTicks, yName: 'z(0)', gap: 46, layers: c1Layers },
    { rect: [1004, 1380, 696, 536], x: 10, y: 10, xTicks: c2XTicks, yTicks: c2YTicks, yName: 'y(0)', gap: 56, layers: c2Layers }
];

// panel tags, letter then subscript: [text, left, baseline, size, family, colour]
var SANS = '"Liberation Sans"', SERIF = '"Liberation Serif"';
var tags = [
    ['a', 6, 63, 60, SANS, RED], ['1', 45, 96, 48, SANS, RED],
    ['a', 902, 35, 64, SERIF, '#000'], ['2', 932, 66, 48, SERIF, '#000'],
    ['b', 1, 739, 62, SANS, RED], ['1', 38, 771, 44, SANS, RED],
    ['b', 910, 727, 62, SANS, RED], ['2', 948, 760, 44, SANS, RED],
    ['c', 12, 1396, 58, SANS, RED], ['1', 46, 1428, 46, SANS, RED],
    ['c', 905, 1394, 58, SANS, RED], ['2', 936, 1426, 44, SANS, RED]
];

function layerSeries(layer, index) {
    var points = layer[0], color = layer[1], width = layer[2], dash = layer[3];
    return {
        type: 'custom',
        xAxisIndex: index,
        yAxisIndex: index,
        coordinateSystem: 'cartesian2d',
        silent: true,
        animation: false,
        clip: true,
        encode: { x: 0, y: 1 },
        data: points,
        renderItem: function (params, api) {
            if (params.dataIndex !== 0) { return null; }
            var pts = points.map(function (p) { return api.coord(p); });
            if (width) {
                return {
                    type: 'polyline',
                    shape: { points: pts, smooth: 0.35 },
                    style: { fill: null, stroke: color, lineWidth: width, lineDash: dash || null, lineJoin: 'round', lineCap: dash ? 'butt' : 'round' }
                };
            }
            return { type: 'polygon', shape: { points: pts, smooth: 0.35 }, style: { fill: color, stroke: color, lineWidth: 1 } };
        }
    };
}

var tickFont = { fontFamily: SANS, fontSize: 29, color: '#1c1c1c' };
var nameFont = { fontFamily: SANS, fontSize: 36, color: '#333' };
var grids = [], xAxes = [], yAxes = [], series = [];

panels.forEach(function (p, i) {
    grids.push({
        left: p.rect[0], top: p.rect[1], width: p.rect[2], height: p.rect[3],
        show: true, backgroundColor: YELLOW, borderColor: '#222', borderWidth: 2
    });
    xAxes.push({
        type: 'value', gridIndex: i, min: -p.x, max: p.x,
        name: 'x(0)', nameLocation: 'middle', nameGap: 50, nameTextStyle: nameFont,
        axisLine: { show: false }, axisTick: { show: false }, splitLine: { show: false },
        axisLabel: Object.assign({ margin: 9, customValues: p.xTicks, hideOverlap: false }, tickFont)
    });
    yAxes.push({
        type: 'value', gridIndex: i, min: -p.y, max: p.y,
        name: p.yName, nameLocation: 'middle', nameGap: p.gap, nameTextStyle: nameFont,
        axisLine: { show: false }, axisTick: { show: false }, splitLine: { show: false },
        axisLabel: Object.assign({ margin: 8, customValues: p.yTicks, hideOverlap: false }, tickFont)
    });
    p.layers.forEach(function (layer) { series.push(layerSeries(layer, i)); });
});

var chart = echarts.init(document.getElementById('chart'));
chart.setOption({
    backgroundColor: '#fff',
    animation: false,
    grid: grids,
    xAxis: xAxes,
    yAxis: yAxes,
    series: series,
    graphic: tags.map(function (t) {
        return {
            type: 'text', z: 100,
            style: { text: t[0], x: t[1], y: t[2] - 0.82 * t[3], font: t[3] + 'px ' + t[4], fill: t[5], textVerticalAlign: 'top' }
        };
    })
});
</script>
</body>
</html>
